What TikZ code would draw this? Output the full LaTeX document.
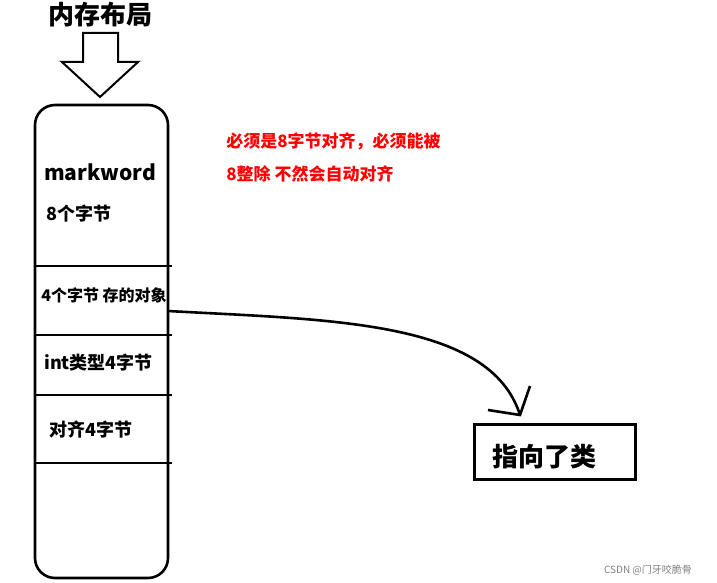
\documentclass[tikz,border=0pt]{standalone}
\usepackage{fontspec}
\setmainfont{Noto Sans CJK SC}
\begin{document}
\begin{tikzpicture}[x=1pt,y=-1pt,line width=2.6pt,
  lbl/.style={font=\bfseries\fontsize{18}{20}\selectfont,inner sep=0,anchor=west},
  red/.style={font=\bfseries\fontsize{17}{19}\selectfont,text=red,anchor=west,inner sep=0}]
\useasboundingbox (0,0) rectangle (717,583);
\node[font=\bfseries\fontsize{26}{28}\selectfont,inner sep=0] (title) at (100,15) {内存布局};
\draw[line width=2pt,line join=miter] (83,33) -- (118,33) -- (118,62) -- (138,62) -- (100,97) -- (62,62) -- (83,62) -- cycle;
\draw[rounded corners=20] (35,105) rectangle (168,578);
\foreach \y in {266,335,395,463} \draw (35,\y) -- (172,\y);
\node[lbl,font=\bfseries\fontsize{21}{23}\selectfont] (mw) at (43,172) {markword};
\node[lbl] (b8) at (45,214) {8个字节};
\node[lbl,font=\bfseries\fontsize{16}{18}\selectfont] (ptr) at (40,295) {4个字节 存的对象};
\node[lbl] (int) at (43,363) {int类型4字节};
\node[lbl] (pad) at (48,430) {对齐4字节};
\node[red] (r1) at (225,141) {必须是8字节对齐，必须能被};
\node[red] (r2) at (225,174) {8整除 不然会自动对齐};
\node[draw,line width=2.6pt,minimum width=161pt,minimum height=55pt,inner sep=0] (cls) at (555,452) {};
\node[font=\bfseries\fontsize{26}{28}\selectfont,inner sep=0,anchor=west] (clst) at (491,457) {指向了类};
\coordinate (tip) at (520,415);
\draw (168,311) .. controls (330,320) and (490,320) .. (tip);
\draw (488,410) -- (tip) -- (530,386);
\node[font=\fontsize{10}{11}\selectfont,text=gray,inner sep=0] (wm) at (648,570) {CSDN @门牙咬脆骨};
\end{tikzpicture}
\end{document}
